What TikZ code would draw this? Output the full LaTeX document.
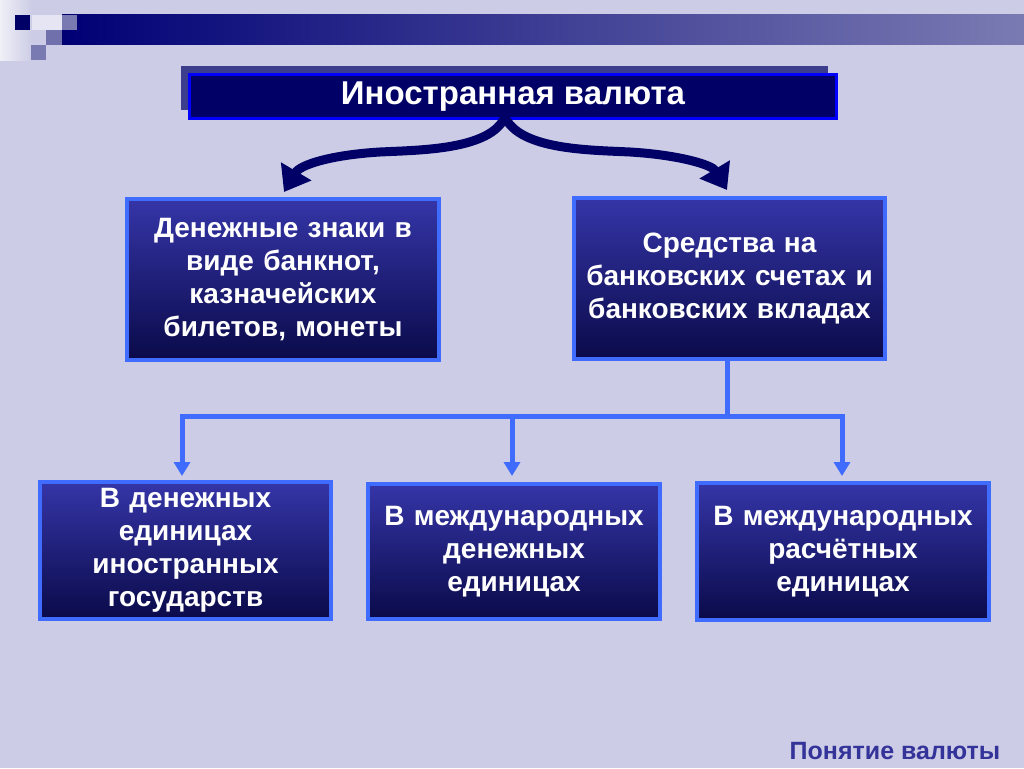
\documentclass[tikz,border=0pt]{standalone}
\usepackage{fontspec}
\setmainfont{Liberation Sans}
\usetikzlibrary{arrows.meta}
\definecolor{bg}{HTML}{CCCCE6}
\definecolor{navy}{HTML}{000066}
\definecolor{lb}{HTML}{3F6BFF}
\definecolor{btop}{HTML}{3535A8}
\definecolor{bbot}{HTML}{0A0A4A}
\begin{document}
\begin{tikzpicture}[x=1pt,y=-1pt,
 box/.style={draw=lb,line width=4pt,top color=btop,bottom color=bbot,anchor=north west,inner sep=0pt,
   text=white,font=\bfseries\fontsize{28}{33}\selectfont,align=center},
 conn/.style={draw=lb,line width=5pt},
 carr/.style={draw=navy,line width=9pt,-{Triangle[length=24pt,width=34pt]}}]
\fill[bg] (0,0) rectangle (1024,768);
\useasboundingbox (0,0) rectangle (1024,768);
% decoration
\shade[left color=navy!90!blue, right color=navy!40!bg] (62,15) rectangle (1024,45);
\shade[left color=white!70!bg,right color=bg] (0,0) rectangle (32,60);
\fill[navy] (15,15) rectangle (30,30);
\fill[white!50!bg] (32,15) rectangle (62,30);
\fill[navy!40!bg] (62,15) rectangle (77,30);
\fill[navy!45!bg] (46,30) rectangle (62,45);
\fill[navy!40!bg] (31,45) rectangle (46,60);
% title
\fill[navy!70!bg] (181,66) rectangle (828,110);
\node[draw={rgb,255:red,0;green,0;blue,255},line width=3pt,fill=navy,anchor=north west,minimum width=647pt,minimum height=44pt,inner sep=0pt,
  text=white,font=\bfseries\fontsize{33}{36}\selectfont] (t) at (188,73) {Иностранная валюта};
% boxes
\node[box,minimum width=312pt,minimum height=161pt,text width=305pt] (l) at (125,197) {Денежные знаки в\\виде банкнот,\\казначейских\\билетов, монеты};
\node[box,minimum width=311pt,minimum height=161pt,text width=305pt] (r) at (572,196) {Средства на\\банковских счетах и\\банковских вкладах};
\node[box,minimum width=291pt,minimum height=137pt,text width=285pt] (b1) at (38,480) {В денежных\\единицах\\иностранных\\государств};
\node[box,minimum width=292pt,minimum height=135pt,text width=285pt] (b2) at (366,482) {В международных\\денежных\\единицах};
\node[box,minimum width=292pt,minimum height=137pt,text width=285pt] (b3) at (695,481) {В международных\\расчётных\\единицах};
% curved arrows
\coordinate (ts) at (505,117);
\draw[carr] (ts) .. controls (490,150) and (420,150) .. (380,152) .. controls (330,155) and (300,165) .. (284,192);
\draw[carr] (ts) .. controls (520,150) and (590,150) .. (630,152) .. controls (680,155) and (712,165) .. (727,190);
% connectors
\coordinate (j) at (727,416);
\draw[conn] (r.south -| j) -- (j);
\draw[conn] (182,416) -- (842,416);
\draw[conn,-{Triangle[length=14pt,width=16pt]}] (182,414) -- (182,476);
\draw[conn,-{Triangle[length=14pt,width=16pt]}] (512,414) -- (512,476);
\draw[conn,-{Triangle[length=14pt,width=16pt]}] (842,414) -- (842,476);
\node[text={rgb,255:red,51;green,51;blue,153},font=\bfseries\fontsize{25}{28}\selectfont] (f) at (895,751) {Понятие валюты};
\end{tikzpicture}
\end{document}
